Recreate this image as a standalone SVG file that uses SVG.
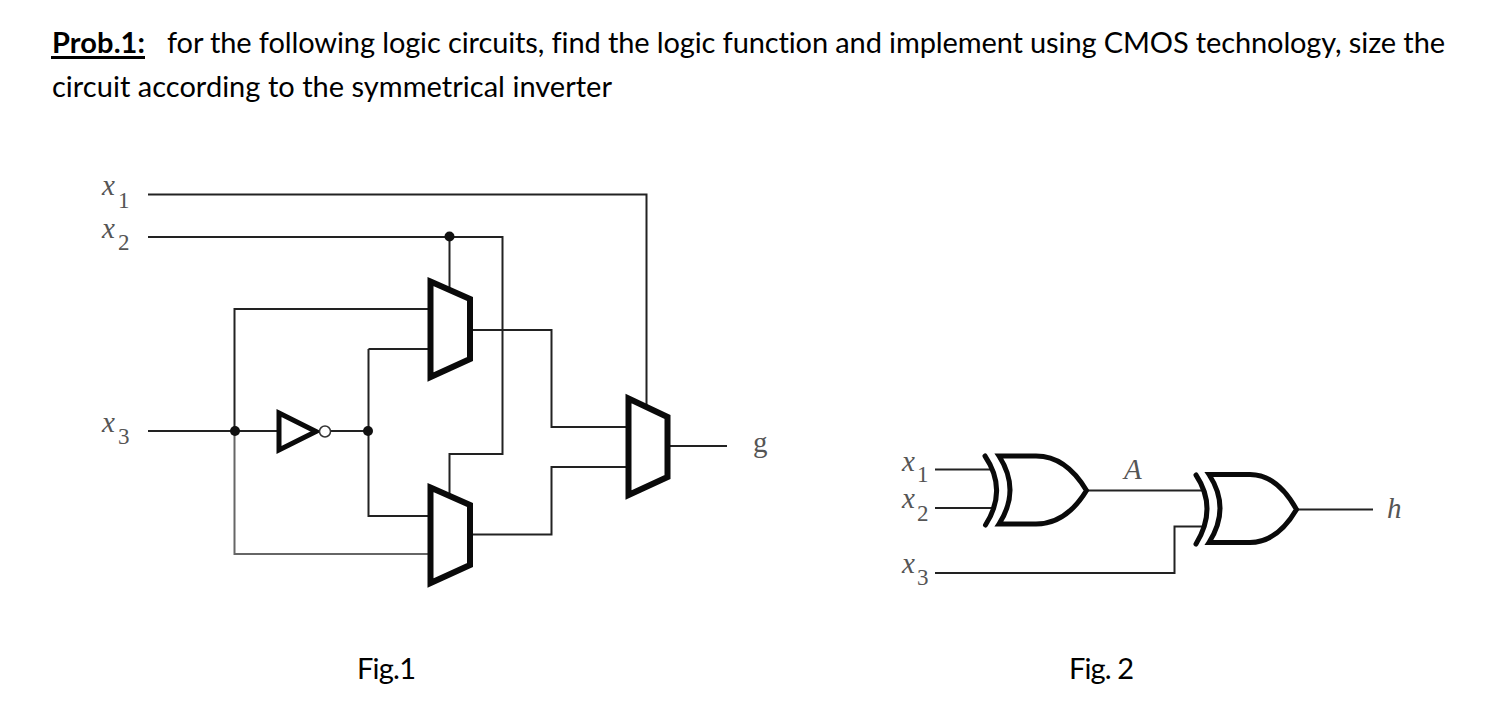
<svg xmlns="http://www.w3.org/2000/svg" width="1493" height="703" viewBox="0 0 1493 703">
<style>
.t{font-family:"Lato","Liberation Sans",sans-serif;font-size:29px;fill:#000;font-variant-ligatures:none}
.v{font-family:"Liberation Serif",serif;font-size:29px;font-style:italic;fill:#555}
.s{font-family:"Liberation Serif",serif;font-size:23px;fill:#555}
.w{fill:none;stroke:#222;stroke-width:2}
.g{fill:none;stroke:#0a0a0a;stroke-width:6;stroke-linejoin:miter}
.x{fill:none;stroke:#0a0a0a;stroke-width:5;stroke-linejoin:miter}
.d{fill:#111}
</style>
<rect width="1493" height="703" fill="#fff"/>
<g id="heading">
<text class="t" x="52" y="53" font-weight="700" textLength="93">Prob.1:</text>
<rect x="51" y="56" width="94" height="3" fill="#000"/>
<text class="t" x="167" y="53" textLength="1278">for the following logic circuits, find the logic function and implement using CMOS technology, size the</text>
<text class="t" x="52" y="97" textLength="560">circuit according to the symmetrical inverter</text>
</g>
<g id="connectors">
<path class="w" d="M148 194.500H646.500V408"/>
<path class="w" d="M148 237H502.500V454H449.500V495"/>
<path class="w" d="M449.500 237V290"/>
<path class="w" d="M148 431H278"/>
<path class="w" d="M234.500 431V309H430"/>
<path class="w" d="M331 431H368.500"/>
<path class="w" d="M368.500 349H430M368.500 349V516H430"/>
<path d="M234.500 431V554H430" fill="none" stroke="#666" stroke-width="2"/>
<path class="w" d="M470 330H551.500V427H628"/>
<path class="w" d="M470 534.500H551.500V467H628"/>
<path class="w" d="M667 446H727"/>
<path class="w" d="M935 469.500H993"/>
<path class="w" d="M935 508H993"/>
<path class="w" d="M1087 490.500H1204"/>
<path class="w" d="M935 573H1174.500V526.500H1204"/>
<path class="w" d="M1297 509.500H1373"/>
<circle class="d" cx="449.500" cy="236.500" r="5"/>
<circle class="d" cx="235" cy="431" r="5"/>
<circle class="d" cx="368" cy="431" r="5"/>
</g>
<g id="mux1"><path class="g" d="M430.500 281.500L470 299V359L430.500 377Z"/></g>
<g id="mux2"><path class="g" d="M430.500 487.500L470 505V565L430.500 583Z"/></g>
<g id="mux3"><path class="g" d="M628.500 398.500L667.500 417V477L628.500 495Z"/></g>
<g id="inverter">
<path class="x" d="M279 413L316 431.500L279 450Z"/>
<circle cx="325" cy="431.500" r="5.500" fill="#fff" stroke="#333" stroke-width="1.500"/>
</g>
<g id="xor1"><path class="x" stroke-linecap="round" d="M985 456Q1008 490 985.500 525"/><path class="x" d="M999 456H1036Q1066 456 1086.500 490.500Q1066 524 1036 524H999Q1021 490 999 456Z"/></g>
<g id="xor2"><path class="x" stroke-linecap="round" d="M1196 475Q1218 508 1196 544"/><path class="x" d="M1209 474.500H1250Q1277 474.500 1296.500 509.500Q1277 542.500 1250 542.500H1209Q1231 508 1209 474.500Z"/></g>
<g id="labels-fig1">
<text class="v" x="102" y="195">x</text><text class="s" x="118" y="208">1</text>
<text class="v" x="102" y="238">x</text><text class="s" x="118" y="250">2</text>
<text class="v" x="102" y="432">x</text><text class="s" x="118" y="444">3</text>
<text class="v" x="753" y="452" font-size="27" style="font-style:normal">g</text>
<text class="t" x="357" y="679" textLength="59">Fig.1</text>
</g>
<g id="labels-fig2">
<text class="v" x="902" y="471">x</text><text class="s" x="917" y="482">1</text>
<text class="v" x="902" y="508">x</text><text class="s" x="917" y="521">2</text>
<text class="v" x="902" y="573">x</text><text class="s" x="917" y="585">3</text>
<text class="v" x="1124" y="479" font-size="24">A</text>
<text class="v" x="1387" y="518" font-size="24">h</text>
<text class="t" x="1069" y="679" textLength="65">Fig. 2</text>
</g>
</svg>
